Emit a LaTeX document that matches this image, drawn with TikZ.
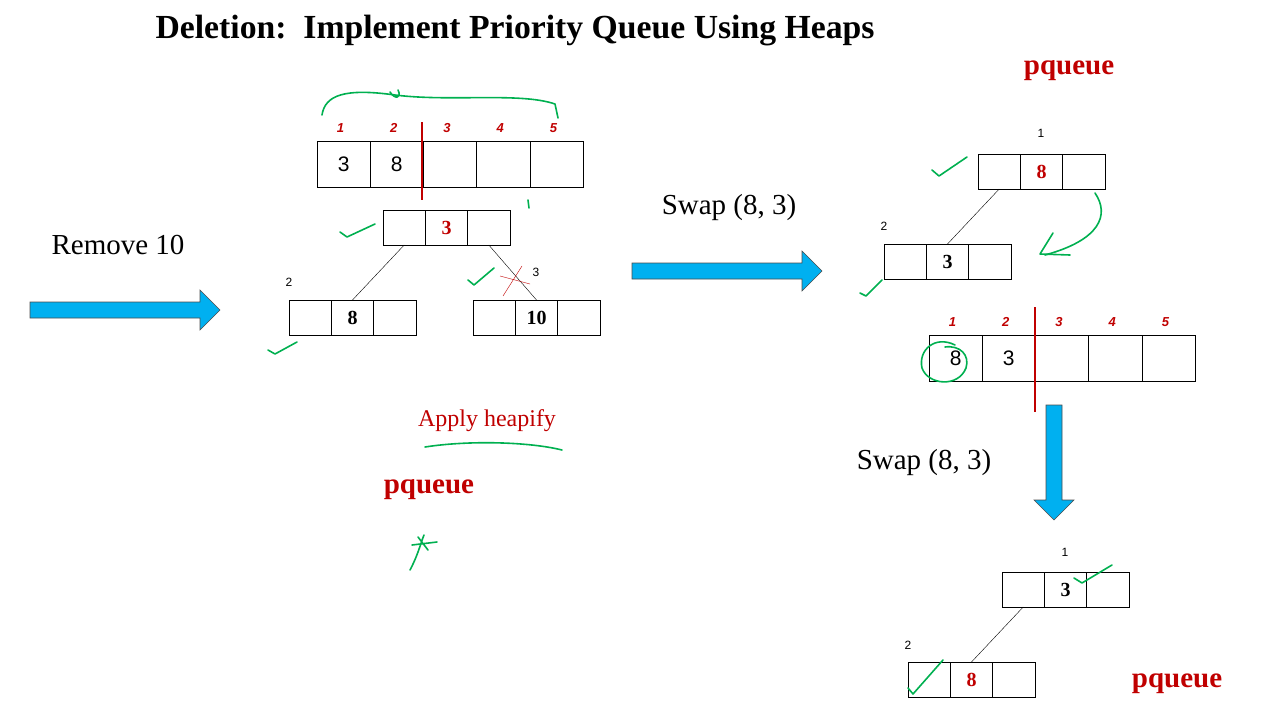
\documentclass[tikz,border=0pt]{standalone}
\usepackage{fontspec}
\setmainfont{Liberation Serif}
\newfontfamily\arialfont{Liberation Sans}
\usetikzlibrary{calc}
\definecolor{qred}{RGB}{192,0,0}
\definecolor{qblue}{RGB}{0,176,240}
\definecolor{qgreen}{RGB}{0,176,80}
\tikzset{hcell/.style = {draw, minimum width=42.3pt, minimum height=35pt,
inner sep=0pt, outer sep=0pt, font=\fontsize{20}{21}\selectfont\bfseries}}
\tikzset{acell/.style = {draw, minimum width=53.2pt, minimum height=46pt,
inner sep=0pt, outer sep=0pt, font=\arialfont\fontsize{21}{22}\selectfont}}
\tikzset{idx/.style = {text=qred, font=\arialfont\itshape\bfseries\fontsize{13}{14}\selectfont}}
\tikzset{small/.style = {font=\arialfont\fontsize{12}{13}\selectfont}}
\tikzset{pq/.style = {text=qred, font=\bfseries\fontsize{29}{30}\selectfont}}
\tikzset{big/.style = {font=\fontsize{29}{31}\selectfont}}
\tikzset{barrow/.style = {fill=qblue, draw=black!70, line width=0.6pt}}
\tikzset{pen/.style = {draw=qgreen, line width=1.6pt, line cap=round, line join=round}}
\begin{document}
\begin{tikzpicture}[x=1pt,y=-1pt]
                \useasboundingbox (0,0) rectangle (1280,720);
                \node[font=\bfseries\fontsize{33.7}{36}\selectfont] (title) at (515,31) {Deletion:\ \ Implement Priority Queue Using Heaps};
                \node[big] (rem) at (118,245) {Remove 10};
                \node[big] (swapa) at (729,208) {Swap (8, 3)};
                \node[big] (swapb) at (924,463) {Swap (8, 3)};
                \node[text=qred, font=\fontsize{24}{26}\selectfont] (heapify) at (487,421) {Apply heapify};
                \node[pq] (pqa) at (429,490) {pqueue};
                \node[pq] (pqb) at (1069,71) {pqueue};
                \node[pq] (pqc) at (1177,684) {pqueue};

                % arrows
                \draw[barrow] (30,302) -- (200,302) -- (200,290) -- (220,310) -- (200,330) -- (200,318) -- (30,318) -- cycle;
                \draw[barrow] (632,263) -- (802,263) -- (802,251) -- (822,271) -- (802,291) -- (802,279) -- (632,279) -- cycle;
                \draw[barrow] (1046,405) -- (1062,405) -- (1062,500) -- (1074,500) -- (1054,520) -- (1034,500) -- (1046,500) -- cycle;

                % first array
                \foreach \i/\v in {1/3,2/8,3/,4/,5/} {
                    \node[acell] (a\i) at (317+53.2*\i-26.6,164) {\v};
                    \node[idx] (ai\i) at (317+53.2*\i-26.6-3,128) {\i};
                }
                \draw[qred, line width=1.5pt] (422,122) -- (422,200);

                % first heap
                \node[hcell] (r1) at (404.2,227.5) {};
                \node[hcell, text=qred] (r2) at (446.5,227.5) {3};
                \node[hcell] (r3) at (488.8,227.5) {};
                \node[hcell] (l1) at (310.2,317.5) {};
                \node[hcell] (l2) at (352.5,317.5) {8};
                \node[hcell] (l3) at (394.8,317.5) {};
                \node[hcell] (q1) at (494.2,317.5) {};
                \node[hcell] (q2) at (536.5,317.5) {10};
                \node[hcell] (q3) at (578.8,317.5) {};
                \draw (r1.south) -- (l2.north);
                \draw (r3.south) -- (q2.north);
                \node[small] (n2) at (289,282) {2};
                \node[small] (n3) at (536,272) {3};
                \draw[qred] (503,296) -- (522,266) (500,276) -- (530,284);

                % second heap
                \node[hcell] (s1) at (999.2,171.5) {};
                \node[hcell, text=qred] (s2) at (1041.5,171.5) {8};
                \node[hcell] (s3) at (1083.8,171.5) {};
                \node[hcell] (t1) at (905.2,261.5) {};
                \node[hcell] (t2) at (947.5,261.5) {3};
                \node[hcell] (t3) at (989.8,261.5) {};
                \draw (s1.south) -- (t2.north);
                \node[small] (m1) at (1041,133) {1};
                \node[small] (m2) at (884,226) {2};

                % second array
                \foreach \i/\v in {1/8,2/3,3/,4/,5/} {
                    \node[acell] (b\i) at (929+53.2*\i-26.6,358) {\v};
                    \node[idx] (bi\i) at (929+53.2*\i-26.6-3,322) {\i};
                }
                \draw[qred, line width=1.5pt] (1035,307) -- (1035,412);

                % third heap
                \node[hcell] (u1) at (1023.2,589.5) {};
                \node[hcell] (u2) at (1065.5,589.5) {3};
                \node[hcell] (u3) at (1107.8,589.5) {};
                \node[hcell] (v1) at (929.2,679.5) {};
                \node[hcell, text=qred] (v2) at (971.5,679.5) {8};
                \node[hcell] (v3) at (1013.8,679.5) {};
                \draw (u1.south) -- (v2.north);
                \node[small] (k1) at (1065,552) {1};
                \node[small] (k2) at (908,645) {2};

                % pen marks
                \draw[pen] (322,115) .. controls (325,95) and (345,88) .. (395,95) .. controls (450,102) and (520,92) .. (555,104) -- (558,118);
                \draw[pen] (390,92) .. controls (395,100) and (402,98) .. (398,90);
                \draw[pen] (340,232) -- (347,237) -- (375,224);
                \draw[pen] (268,350) -- (275,354) -- (297,342);
                \draw[pen] (468,280) -- (474,285) -- (494,268);
                \draw[pen] (528,200) -- (529,208);
                \draw[pen] (425,447) .. controls (470,440) and (530,442) .. (562,450);
                \draw[pen] (410,570) .. controls (418,555) and (420,545) .. (424,535) (412,545) -- (437,542) (418,537) -- (428,550);
                \draw[pen] (932,170) -- (939,176) -- (967,157);
                \draw[pen] (860,293) -- (866,296) -- (882,280);
                \draw[pen] (1095,193) .. controls (1110,215) and (1100,240) .. (1045,255);
                \draw[pen] (1053,233) -- (1040,254) -- (1070,255);
                \draw[pen] (955,345) .. controls (935,335) and (918,350) .. (922,368) .. controls (928,385) and (958,388) .. (966,368) .. controls (970,355) and (960,345) .. (945,347);
                \draw[pen] (1074,578) -- (1082,583) -- (1112,565);
                \draw[pen] (908,688) -- (913,694) -- (943,660);
            \end{tikzpicture}
\end{document}
